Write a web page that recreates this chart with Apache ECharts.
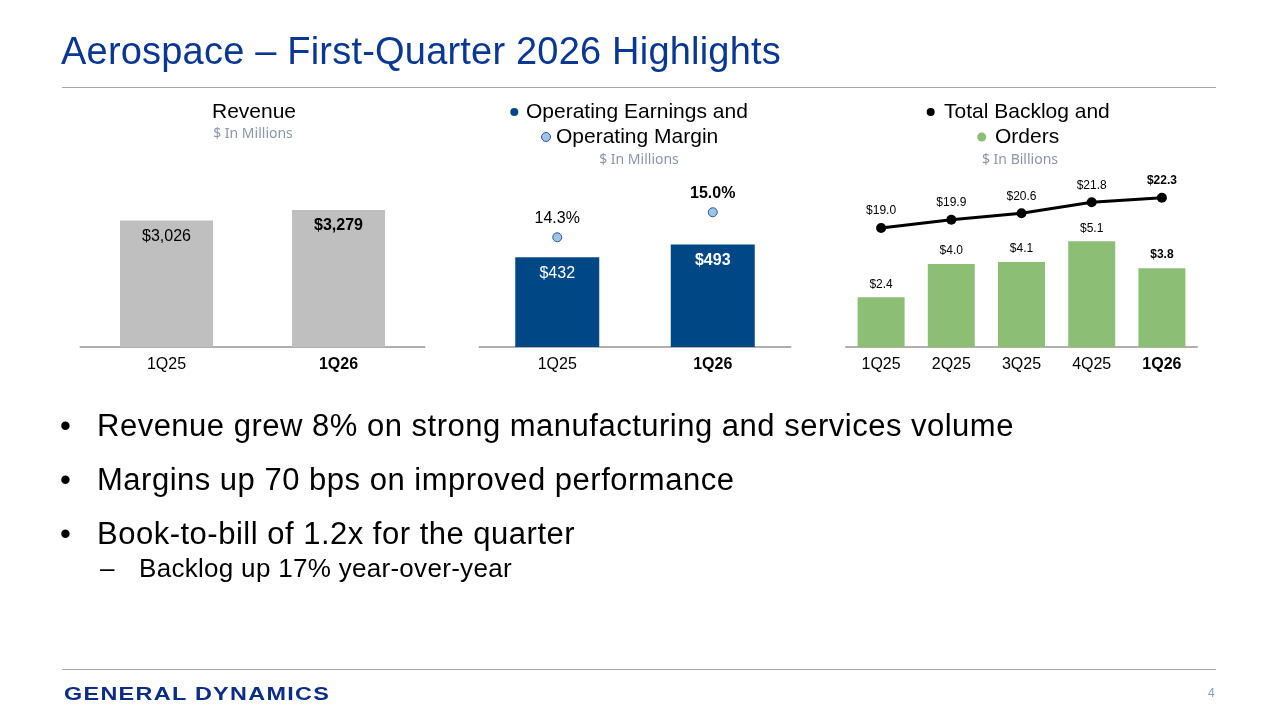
<!DOCTYPE html>
<html>
<head>
<meta charset="utf-8">
<script src="https://cdn.jsdelivr.net/npm/echarts@6/dist/echarts.min.js"></script>
<style>
  html, body { margin: 0; padding: 0; background: #fff; }
  #page { position: relative; width: 1274px; height: 715px; overflow: hidden; font-family: "Liberation Sans", Arial, sans-serif; }
  #myChart { position: absolute; left: 0; top: 0; width: 1274px; height: 715px; }
  .txt { position: absolute; white-space: nowrap; color: #000; }
  .b1 { font-size: 31px; line-height: 31px; letter-spacing: 0.5px; }
  .rule { position: absolute; left: 62px; width: 1154px; height: 0; border-top: 1.5px solid #a6a6a6; }
</style>
</head>
<body>
<div id="page">
  <div id="myChart"></div>

  <div class="txt" style="left:61px; top:32px; font-size:38px; line-height:38px; letter-spacing:0.2px; color:#0a3791;">Aerospace – First-Quarter 2026 Highlights</div>
  <div class="rule" style="top:87px;"></div>

  <div class="txt b1" style="left:60px; top:410px;">•</div>
  <div class="txt b1" style="left:97px; top:410px;">Revenue grew 8% on strong manufacturing and services volume</div>
  <div class="txt b1" style="left:60px; top:464px;">•</div>
  <div class="txt b1" style="left:97px; top:464px;">Margins up 70 bps on improved performance</div>
  <div class="txt b1" style="left:60px; top:518px;">•</div>
  <div class="txt b1" style="left:97px; top:518px;">Book-to-bill of 1.2x for the quarter</div>
  <div class="txt" style="left:100px; top:555px; font-size:26px; line-height:26px;">–</div>
  <div class="txt" style="left:139px; top:555px; font-size:26px; line-height:26px; letter-spacing:0.3px;">Backlog up 17% year-over-year</div>

  <div class="rule" style="top:669px;"></div>
  <div class="txt" style="left:64px; top:685px; font-size:18px; line-height:18px; font-weight:900; color:#0b2d86; letter-spacing:1px; transform:scaleX(1.3); transform-origin:left center;">GENERAL DYNAMICS</div>
  <div class="txt" style="left:1208px; top:687px; font-size:12px; line-height:12px; color:#7f9bc0;">4</div>
</div>

<script>
// Revenue ($ in millions)
var revCats = ['1Q25', '1Q26'];
var revValues = [3026, 3279];

// Operating earnings ($ in millions) and operating margin (%)
var oeCats = ['1Q25', '1Q26'];
var oeValues = [432, 493];
var marginValues = [14.3, 15.0];

// Orders and total backlog ($ in billions)
var ordCats = ['1Q25', '2Q25', '3Q25', '4Q25', '1Q26'];
var orderValues = [2.4, 4.0, 4.1, 5.1, 3.8];
var backlogValues = [19.0, 19.9, 20.6, 21.8, 22.3];

var FONT = '"Liberation Sans", Arial, sans-serif';
var SUB_FONT = '"Noto Sans", "Open Sans", sans-serif';

// latest quarter is shown in bold
function boldLast(values) {
    return values.map(function (v, i) {
        return i === values.length - 1 ? { value: v, label: { fontWeight: 'bold' } } : v;
    });
}

function catAxis(cats, gridIndex) {
    return {
        type: 'category',
        gridIndex: gridIndex,
        data: cats,
        axisTick: { show: false },
        axisLine: { lineStyle: { color: '#afafaf', width: 2 } },
        axisLabel: {
            interval: 0,
            margin: 10,
            color: '#000',
            fontFamily: FONT,
            fontSize: 16,
            formatter: function (v, i) {
                return i === cats.length - 1 ? '{b|' + v + '}' : v;
            },
            rich: { b: { fontWeight: 'bold', fontFamily: FONT, fontSize: 16, color: '#000' } }
        }
    };
}

function hiddenAxis(gridIndex, min, max) {
    return { type: 'value', gridIndex: gridIndex, min: min, max: max, show: false, splitLine: { show: false } };
}

function headerText(x, y, text, align) {
    return { type: 'text', x: x, y: y, silent: true,
        style: { text: text, fill: '#000', font: '21px ' + FONT, textAlign: align, textVerticalAlign: 'middle' } };
}
function subText(x, y, text) {
    return { type: 'text', x: x, y: y, silent: true,
        style: { text: text, fill: '#8a96a8', font: '14px ' + SUB_FONT, textAlign: 'center', textVerticalAlign: 'middle' } };
}
function dot(cx, cy, r, fill, stroke) {
    return { type: 'circle', shape: { cx: cx, cy: cy, r: r }, silent: true,
        style: { fill: fill, stroke: stroke || null, lineWidth: stroke ? 1 : 0 } };
}

var option = {
    animation: false,
    grid: [
        { left: 80.5, top: 179, width: 344, height: 168 },
        { left: 479.5, top: 179, width: 311, height: 168 },
        { left: 846, top: 179, width: 351, height: 168 }
    ],
    xAxis: [catAxis(revCats, 0), catAxis(oeCats, 1), catAxis(ordCats, 2)],
    yAxis: [
        hiddenAxis(0, 0, 4020),
        hiddenAxis(1, 0, 808),
        hiddenAxis(1, 11.23, 15.93),
        hiddenAxis(2, 0, 8.1),
        hiddenAxis(2, 6.04, 24.34)
    ],
    graphic: [
        headerText(254, 112, 'Revenue', 'center'),
        subText(253, 134, '$ In Millions'),

        dot(514.3, 112, 4, '#004786'),
        headerText(526, 112, 'Operating Earnings and', 'left'),
        dot(546, 137, 4.5, '#9dc3e6', '#2f5597'),
        headerText(556, 137, 'Operating Margin', 'left'),
        subText(639, 160, '$ In Millions'),

        dot(930.7, 112, 4, '#000'),
        headerText(944, 112, 'Total Backlog and', 'left'),
        dot(981.7, 137, 4.5, '#8dbe76'),
        headerText(995, 137, 'Orders', 'left'),
        subText(1020, 160, '$ In Billions')
    ],
    series: [
        {
            name: 'Revenue', type: 'bar', xAxisIndex: 0, yAxisIndex: 0,
            barWidth: 93,
            itemStyle: { color: '#bfbfbf' },
            label: {
                show: true, position: 'insideTop', distance: 8,
                color: '#000', fontFamily: FONT, fontSize: 16,
                formatter: function (p) { return '$' + p.value.toLocaleString('en-US'); }
            },
            data: boldLast(revValues)
        },
        {
            name: 'Operating Earnings', type: 'bar', xAxisIndex: 1, yAxisIndex: 1,
            barWidth: 84,
            itemStyle: { color: '#004786' },
            label: {
                show: true, position: 'insideTop', distance: 8,
                color: '#fff', fontFamily: FONT, fontSize: 16,
                formatter: function (p) { return '$' + p.value; }
            },
            data: boldLast(oeValues)
        },
        {
            name: 'Operating Margin', type: 'scatter', xAxisIndex: 1, yAxisIndex: 2,
            symbol: 'circle', symbolSize: 9,
            itemStyle: { color: '#9dc3e6', borderColor: '#2f5597', borderWidth: 1, opacity: 1 },
            label: {
                show: true, position: 'top', distance: 6,
                color: '#000', fontFamily: FONT, fontSize: 16,
                formatter: function (p) { return p.value.toFixed(1) + '%'; }
            },
            data: boldLast(marginValues)
        },
        {
            name: 'Orders', type: 'bar', xAxisIndex: 2, yAxisIndex: 3,
            barWidth: 47,
            itemStyle: { color: '#8dbe76' },
            label: {
                show: true, position: 'top', distance: 7,
                color: '#000', fontFamily: FONT, fontSize: 12,
                formatter: function (p) { return '$' + p.value.toFixed(1); }
            },
            data: boldLast(orderValues)
        },
        {
            name: 'Total Backlog', type: 'line', xAxisIndex: 2, yAxisIndex: 4,
            symbol: 'circle', symbolSize: 10,
            lineStyle: { color: '#000', width: 3 },
            itemStyle: { color: '#000' },
            label: {
                show: true, position: 'top', distance: 6,
                color: '#000', fontFamily: FONT, fontSize: 12,
                formatter: function (p) { return '$' + p.value.toFixed(1); }
            },
            data: boldLast(backlogValues)
        }
    ]
};

var myChart = echarts.init(document.getElementById('myChart'));
myChart.setOption(option);

window.onresize = function () {
    myChart.resize();
};
</script>
</body>
</html>
